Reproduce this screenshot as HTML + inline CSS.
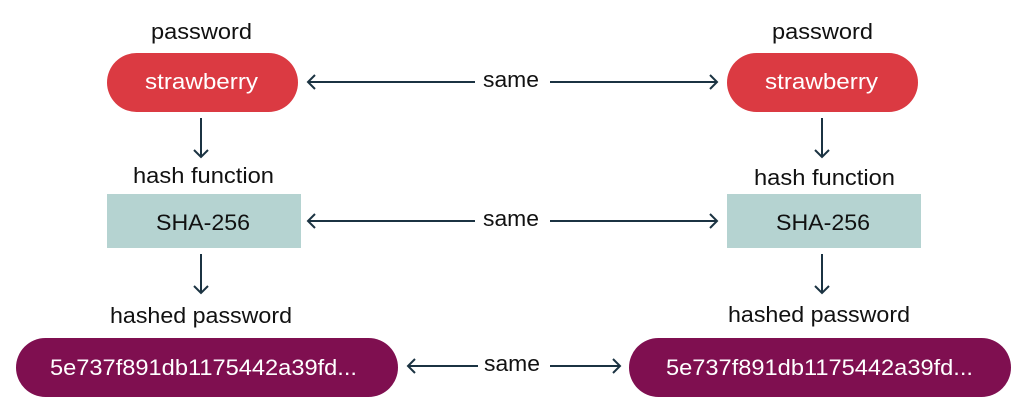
<!DOCTYPE html>
<html><head><meta charset="utf-8"><style>html,body{margin:0;padding:0;background:#fff}svg{display:block}</style></head>
<body>
<svg width="1024" height="412" viewBox="0 0 1024 412" xmlns="http://www.w3.org/2000/svg" font-family="Liberation Sans, sans-serif">
<g fill="none" stroke="#1b3342" stroke-width="2">
<path d="M201 118V157M194 150l7 7 7-7"/>
<path d="M201 254V293M194 286l7 7 7-7"/>
<path d="M822 118V157M815 150l7 7 7-7"/>
<path d="M822 254V293M815 286l7 7 7-7"/>
<path d="M308 82H475M315 75l-7 7 7 7"/>
<path d="M550 82H717M710 75l7 7-7 7"/>
<path d="M308 221H475M315 214l-7 7 7 7"/>
<path d="M550 221H717M710 214l7 7-7 7"/>
<path d="M408 366H478M415 359l-7 7 7 7"/>
<path d="M550 366H620M613 359l7 7-7 7"/>
</g>
<rect x="107" y="53" width="191" height="59" rx="29.5" fill="#db3a42"/>
<rect x="727" y="53" width="191" height="59" rx="29.5" fill="#db3a42"/>
<rect x="107" y="194" width="194" height="54" fill="#b5d3d1"/>
<rect x="727" y="194" width="194" height="54" fill="#b5d3d1"/>
<rect x="16" y="338" width="382" height="59" rx="29.5" fill="#7f0f50"/>
<rect x="629" y="338" width="382" height="59" rx="29.5" fill="#7f0f50"/>
<g font-size="22.5" fill="#111">
<text x="151" y="39" textLength="101" lengthAdjust="spacingAndGlyphs">password</text>
<text x="772" y="39" textLength="101" lengthAdjust="spacingAndGlyphs">password</text>
<text x="133" y="183" textLength="141" lengthAdjust="spacingAndGlyphs">hash function</text>
<text x="754" y="185" textLength="141" lengthAdjust="spacingAndGlyphs">hash function</text>
<text x="110" y="323" textLength="182" lengthAdjust="spacingAndGlyphs">hashed password</text>
<text x="728" y="322" textLength="182" lengthAdjust="spacingAndGlyphs">hashed password</text>
<text x="483" y="87" textLength="56" lengthAdjust="spacingAndGlyphs">same</text>
<text x="483" y="226" textLength="56" lengthAdjust="spacingAndGlyphs">same</text>
<text x="484" y="371" textLength="56" lengthAdjust="spacingAndGlyphs">same</text>
<text x="156" y="230" textLength="94" lengthAdjust="spacingAndGlyphs">SHA-256</text>
<text x="776" y="230" textLength="94" lengthAdjust="spacingAndGlyphs">SHA-256</text>
</g>
<g font-size="22.5" fill="#fff">
<text x="145" y="89" textLength="113" lengthAdjust="spacingAndGlyphs">strawberry</text>
<text x="765" y="89" textLength="113" lengthAdjust="spacingAndGlyphs">strawberry</text>
<text x="50" y="375" textLength="307" lengthAdjust="spacingAndGlyphs">5e737f891db1175442a39fd...</text>
<text x="666" y="375" textLength="307" lengthAdjust="spacingAndGlyphs">5e737f891db1175442a39fd...</text>
</g>
</svg>
</body></html>
